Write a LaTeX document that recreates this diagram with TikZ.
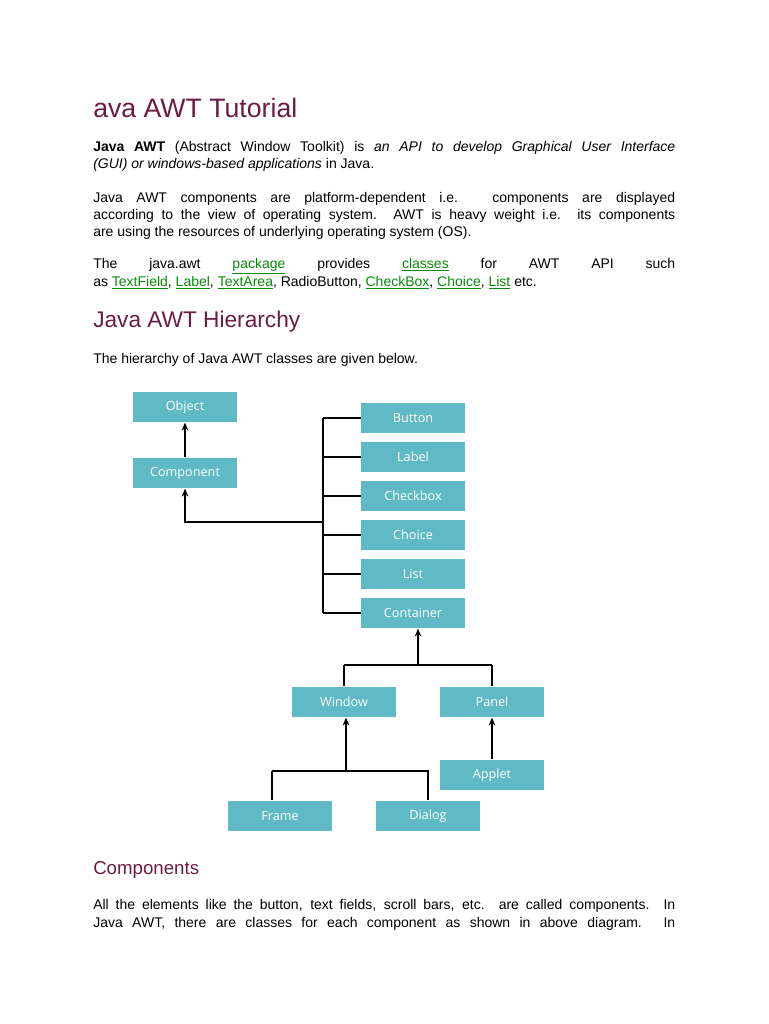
\documentclass[tikz,border=0pt]{standalone}
\usepackage{fontspec}
\setmainfont{Liberation Sans}
\newfontfamily\boxfont{Open Sans}
\usetikzlibrary{positioning, arrows.meta}
\definecolor{headc}{HTML}{6B1C43}
\definecolor{boxc}{HTML}{5FBAC6}
\definecolor{linkc}{HTML}{0A8A0A}
\newcommand{\lnk}[1]{\textcolor{linkc}{\underline{#1}}}
\newcommand{\jline}[1]{\makebox[436.5pt][s]{#1}}
\begin{document}
\begin{tikzpicture}[
        x=0.75pt, y=-0.75pt,
        >={Stealth[length=6pt,width=5pt]},
        txt/.style={anchor=west, inner sep=0pt, font=\fontsize{10.5}{12}\selectfont},
        head/.style={anchor=west, inner sep=0pt, text=headc},
        cls/.style={fill=boxc, minimum width=78pt, minimum height=23pt, inner sep=0pt,
            text=white, font=\boxfont\fontsize{9.5}{11}\selectfont},
        conn/.style={draw=black, line width=0.9pt},
    ]
    \useasboundingbox (0,0) rectangle (768,1024);

    % Headings
    \node[head, font=\fontsize{20}{24}\selectfont] (title) at (93,108) {ava AWT Tutorial};
    \node[head, font=\fontsize{17}{20}\selectfont] (hier) at (93,322) {Java AWT Hierarchy};
    \node[head, font=\fontsize{14}{17}\selectfont] (comp) at (93,870) {Components};

    % Body text
    \node[txt] (p1a) at (93,148) {\jline{\textbf{Java AWT} (Abstract Window Toolkit) is \textit{an API to develop Graphical User Interface}}};
    \node[txt] (p1b) at (93,165) {\textit{(GUI) or windows-based applications} in Java.};
    \node[txt] (p2a) at (93,199) {\jline{Java AWT components are platform-dependent i.e. components are displayed}};
    \node[txt] (p2b) at (93,216) {\jline{according to the view of operating system. AWT is heavy weight i.e. its components}};
    \node[txt] (p2c) at (93,233) {are using the resources of underlying operating system (OS).};
    \node[txt] (p3a) at (93,266) {\jline{The java.awt \lnk{package} provides \lnk{classes} for AWT API such}};
    \node[txt] (p3b) at (93,283) {as \lnk{TextField}, \lnk{Label}, \lnk{TextArea}, RadioButton, \lnk{CheckBox}, \lnk{Choice}, \lnk{List} etc.};
    \node[txt] (p4) at (93,360) {The hierarchy of Java AWT classes are given below.};
    \node[txt] (p5a) at (93,906) {\jline{All the elements like the button, text fields, scroll bars, etc. are called components. In}};
    \node[txt] (p5b) at (93,924) {\jline{Java AWT, there are classes for each component as shown in above diagram. In}};

    % Class boxes
    \node[cls] (object) at (185,407) {Object};
    \node[cls] (component) at (185,473) {Component};
    \foreach \name/\lbl/\y in {button/Button/418, label/Label/457, checkbox/Checkbox/496,
                               choice/Choice/535, list/List/574, container/Container/613}
        \node[cls] (\name) at (413,\y) {\lbl};
    \node[cls] (window) at (344,702) {Window};
    \node[cls] (panel) at (492,702) {Panel};
    \node[cls] (applet) at (492,775) {Applet};
    \node[cls] (frame) at (280,816) {Frame};
    \node[cls] (dialog) at (428,816) {Dialog};

    % Connectors
    \coordinate (bus) at (323,522);
    \foreach \name in {button, label, checkbox, choice, list, container}
        \draw[conn] (\name.west) -- (323,0 |- \name.west);
    \draw[conn] (323,0 |- button.west) -- (323,0 |- container.west);
    \draw[conn, ->] (bus) -| (component.south);
    \draw[conn, ->] (component.north) -- (object.south);

    \coordinate (cj) at (418,665);
    \draw[conn] (window.north |- cj) -- (panel.north |- cj);
    \draw[conn] (window.north |- cj) -- (window.north);
    \draw[conn] (panel.north |- cj) -- (panel.north);
    \draw[conn, ->] (cj) -- (cj |- container.south);
    \draw[conn, ->] (applet.north) -- (panel.south);

    \coordinate (wj) at (346,771);
    \draw[conn] (272,0 |- wj) -- (dialog.north |- wj) -- (dialog.north);
    \draw[conn] (272,0 |- wj) -- (272,0 |- frame.north);
    \draw[conn, ->] (wj) -- (wj |- window.south);
\end{tikzpicture}
\end{document}
